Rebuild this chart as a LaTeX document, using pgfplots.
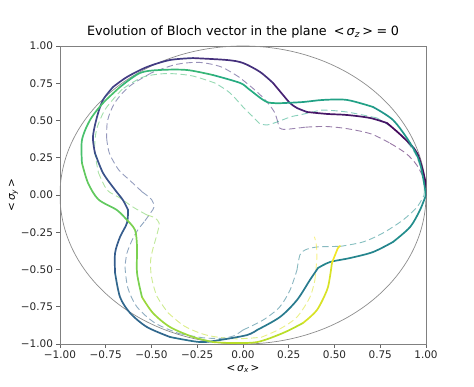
\documentclass[border=0pt]{standalone}
\usepackage{pgfplots}
\usepackage{pgfplotstable}
\pgfplotsset{compat=1.18}
\usepackage{fontspec}
\setmainfont{DejaVu Sans}
\pgfplotsset{colormap={vir}{rgb255=(68,1,84) rgb255=(72,36,117) rgb255=(65,68,135) rgb255=(53,95,141) rgb255=(42,120,142) rgb255=(33,145,140) rgb255=(34,168,132) rgb255=(68,191,112) rgb255=(122,209,81) rgb255=(189,223,38) rgb255=(253,231,37)}}
\pgfplotsset{
  solidseg/.style={smooth, line width=1.7bp, line cap=round},
  dashseg/.style={smooth, line width=0.9bp, opacity=0.55, dash pattern=on 6.5bp off 3.5bp},
}
% style, first index kept, first index skipped after, colormap value (0..1000), table
\newcommand\seg[5]{\addplot[#1, color of colormap={#4}] table[x=x,y=y, skip coords between index={0}{#2}, skip coords between index={#3}{10000}] {#5};}

\pgfplotstableread{
x y
1.000 0.000
0.995 0.101
0.951 0.282
0.874 0.389
0.787 0.483
0.694 0.517
0.568 0.537
0.459 0.544
0.350 0.557
0.295 0.584
0.257 0.617
0.219 0.671
0.164 0.752
0.093 0.826
0.000 0.886
-0.087 0.906
-0.273 0.919
-0.399 0.906
-0.525 0.859
-0.634 0.792
-0.710 0.725
-0.765 0.638
-0.798 0.523
-0.820 0.389
-0.809 0.282
-0.765 0.148
-0.699 0.034
-0.656 -0.034
-0.628 -0.101
-0.634 -0.188
-0.672 -0.282
-0.699 -0.389
-0.699 -0.523
-0.672 -0.685
-0.617 -0.792
-0.525 -0.886
-0.399 -0.953
-0.235 -0.987
-0.126 -0.973
0.022 -0.940
0.077 -0.906
0.202 -0.819
0.295 -0.705
0.366 -0.570
0.410 -0.490
0.475 -0.450
0.585 -0.423
0.710 -0.383
0.820 -0.315
0.913 -0.215
0.967 -0.101
1.000 0.000
0.967 0.215
0.913 0.349
0.820 0.503
0.710 0.591
0.568 0.638
0.437 0.638
0.328 0.624
0.219 0.617
0.131 0.624
0.038 0.705
-0.016 0.752
-0.164 0.805
-0.306 0.839
-0.454 0.839
-0.563 0.819
-0.672 0.725
-0.765 0.617
-0.836 0.503
-0.880 0.369
-0.880 0.215
-0.847 0.081
-0.790 -0.030
-0.689 -0.101
-0.634 -0.168
-0.590 -0.235
-0.579 -0.349
-0.579 -0.523
-0.552 -0.685
-0.492 -0.792
-0.399 -0.886
-0.273 -0.953
-0.164 -0.987
-0.071 -0.993
0.077 -0.987
0.219 -0.926
0.328 -0.859
0.404 -0.772
0.459 -0.638
0.475 -0.550
0.486 -0.456
0.503 -0.403
0.519 -0.356
0.530 -0.342
}\solid

\pgfplotstableread{
x y
1.000 0.000
0.990 0.100
0.950 0.200
0.890 0.280
0.800 0.350
0.700 0.410
0.570 0.445
0.450 0.460
0.340 0.455
0.270 0.445
0.225 0.440
0.200 0.450
0.190 0.490
0.170 0.560
0.120 0.640
0.060 0.710
-0.020 0.790
-0.120 0.860
-0.240 0.890
-0.370 0.875
-0.500 0.820
-0.620 0.730
-0.700 0.620
-0.740 0.500
-0.745 0.380
-0.730 0.280
-0.680 0.170
-0.620 0.100
-0.550 0.020
-0.500 -0.030
-0.486 -0.080
-0.505 -0.120
-0.540 -0.180
-0.575 -0.235
-0.605 -0.300
-0.634 -0.390
-0.645 -0.480
-0.630 -0.620
-0.580 -0.750
-0.480 -0.860
-0.350 -0.930
-0.220 -0.958
-0.120 -0.962
-0.050 -0.945
0.000 -0.906
0.110 -0.839
0.200 -0.752
0.257 -0.638
0.295 -0.503
0.311 -0.403
0.339 -0.369
0.404 -0.349
0.530 -0.345
0.656 -0.315
0.765 -0.255
0.874 -0.168
0.951 -0.081
0.990 0.000
0.985 0.120
0.940 0.280
0.850 0.420
0.732 0.517
0.568 0.557
0.437 0.570
0.383 0.557
0.300 0.535
0.257 0.523
0.186 0.490
0.131 0.470
0.090 0.480
0.050 0.530
0.000 0.591
-0.071 0.685
-0.150 0.750
-0.280 0.800
-0.420 0.815
-0.550 0.790
-0.660 0.710
-0.750 0.580
-0.800 0.440
-0.810 0.300
-0.790 0.150
-0.743 0.034
-0.672 -0.020
-0.601 -0.081
-0.525 -0.134
-0.481 -0.154
-0.458 -0.190
-0.468 -0.255
-0.490 -0.350
-0.505 -0.440
-0.500 -0.550
-0.470 -0.680
-0.410 -0.790
-0.320 -0.880
-0.200 -0.940
-0.050 -0.965
0.100 -0.955
0.200 -0.900
0.295 -0.819
0.366 -0.685
0.393 -0.570
0.404 -0.416
0.400 -0.330
0.390 -0.280
}\dashedtraj

\begin{document}
\begin{tikzpicture}
\useasboundingbox (-60bp,-43bp) rectangle (414bp,344bp);
\begin{axis}[
  at={(0,0)}, anchor=south west,
  scale only axis, width=366bp, height=298bp,
  xmin=-1, xmax=1, ymin=-1, ymax=1,
  axis line style={black!50, line width=0.6bp},
  tick style={black!60, line width=0.6bp},
  tick align=outside, tick pos=left, major tick length=3.5bp,
  xtick={-1,-0.75,-0.5,-0.25,0,0.25,0.5,0.75,1},
  ytick={-1,-0.75,-0.5,-0.25,0,0.25,0.5,0.75,1},
  xticklabels={−1.00,−0.75,−0.50,−0.25,0.00,0.25,0.50,0.75,1.00},
  yticklabels={−1.00,−0.75,−0.50,−0.25,0.00,0.25,0.50,0.75,1.00},
  ticklabel style={font=\fontsize{10.5}{12}\selectfont, text=black!85},
  title={Evolution of Bloch vector in the plane\;\;<\,\textit{σ}\textsubscript{\textit{z}}\,>\;=\;0},
  title style={at={(axis description cs:0.5,1)}, anchor=base, yshift=4.5bp, inner sep=0pt, font=\fontsize{12.8}{14}\selectfont},
  xlabel={<\,\textit{σ}\textsubscript{\textit{x}}\,>}, ylabel={<\,\textit{σ}\textsubscript{\textit{y}}\,>},
  xlabel style={at={(axis description cs:0.5,0)}, anchor=base, yshift=-27bp, inner sep=0pt, font=\fontsize{10.5}{12}\selectfont},
  ylabel style={at={(axis description cs:-0.127,0.5)}, anchor=center, inner sep=0pt, font=\fontsize{10.5}{12}\selectfont},
  colormap name=vir,
]
\draw[black!45, line width=0.7bp] (axis cs:0,0) ellipse [x radius=1, y radius=1];
% dashed trajectory
\seg{dashseg}{0}{5}{18}{\dashedtraj}
\seg{dashseg}{4}{9}{53}{\dashedtraj}
\seg{dashseg}{8}{13}{88}{\dashedtraj}
\seg{dashseg}{12}{17}{123}{\dashedtraj}
\seg{dashseg}{16}{21}{158}{\dashedtraj}
\seg{dashseg}{20}{25}{193}{\dashedtraj}
\seg{dashseg}{24}{29}{228}{\dashedtraj}
\seg{dashseg}{28}{33}{263}{\dashedtraj}
\seg{dashseg}{32}{37}{298}{\dashedtraj}
\seg{dashseg}{36}{41}{333}{\dashedtraj}
\seg{dashseg}{40}{45}{368}{\dashedtraj}
\seg{dashseg}{44}{49}{404}{\dashedtraj}
\seg{dashseg}{48}{53}{439}{\dashedtraj}
\seg{dashseg}{52}{58}{478}{\dashedtraj}
\seg{dashseg}{57}{62}{521}{\dashedtraj}
\seg{dashseg}{61}{66}{564}{\dashedtraj}
\seg{dashseg}{65}{70}{606}{\dashedtraj}
\seg{dashseg}{69}{74}{649}{\dashedtraj}
\seg{dashseg}{73}{78}{691}{\dashedtraj}
\seg{dashseg}{77}{82}{734}{\dashedtraj}
\seg{dashseg}{81}{86}{777}{\dashedtraj}
\seg{dashseg}{85}{90}{819}{\dashedtraj}
\seg{dashseg}{89}{94}{862}{\dashedtraj}
\seg{dashseg}{93}{98}{904}{\dashedtraj}
\seg{dashseg}{97}{102}{947}{\dashedtraj}
\seg{dashseg}{101}{105}{984}{\dashedtraj}
% solid trajectory
\seg{solidseg}{0}{5}{20}{\solid}
\seg{solidseg}{4}{9}{59}{\solid}
\seg{solidseg}{8}{13}{98}{\solid}
\seg{solidseg}{12}{17}{137}{\solid}
\seg{solidseg}{16}{21}{176}{\solid}
\seg{solidseg}{20}{25}{216}{\solid}
\seg{solidseg}{24}{29}{255}{\solid}
\seg{solidseg}{28}{33}{294}{\solid}
\seg{solidseg}{32}{37}{333}{\solid}
\seg{solidseg}{36}{41}{373}{\solid}
\seg{solidseg}{40}{45}{412}{\solid}
\seg{solidseg}{44}{49}{451}{\solid}
\seg{solidseg}{48}{52}{485}{\solid}
\seg{solidseg}{51}{56}{523}{\solid}
\seg{solidseg}{55}{60}{570}{\solid}
\seg{solidseg}{59}{64}{616}{\solid}
\seg{solidseg}{63}{68}{663}{\solid}
\seg{solidseg}{67}{72}{709}{\solid}
\seg{solidseg}{71}{76}{756}{\solid}
\seg{solidseg}{75}{80}{802}{\solid}
\seg{solidseg}{79}{84}{849}{\solid}
\seg{solidseg}{83}{88}{895}{\solid}
\seg{solidseg}{87}{92}{942}{\solid}
\seg{solidseg}{91}{95}{983}{\solid}
\end{axis}
\end{tikzpicture}
\end{document}
